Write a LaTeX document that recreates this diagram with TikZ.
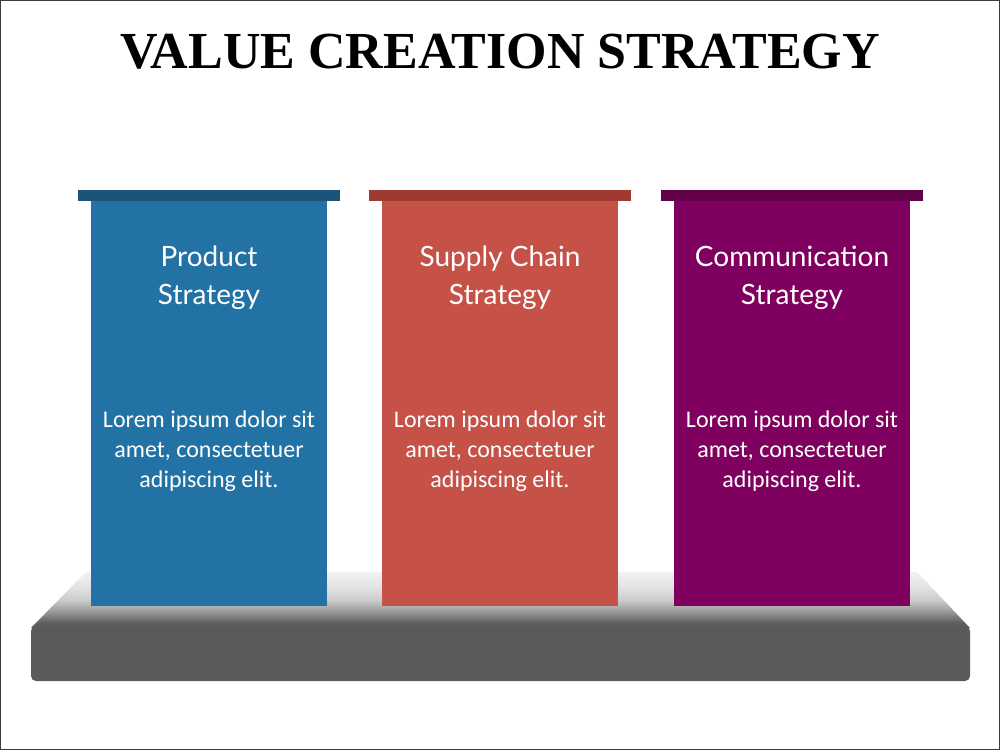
\documentclass[tikz,border=0pt]{standalone}
\usepackage{fontspec}
\setmainfont{Liberation Serif}
\newfontfamily\headfont{Lato}
\newfontfamily\bodyfont{Carlito}
\definecolor{blueBody}{HTML}{2272A5}
\definecolor{blueCap}{HTML}{1B5478}
\definecolor{redBody}{HTML}{C55147}
\definecolor{redCap}{HTML}{9E3A30}
\definecolor{purBody}{HTML}{800060}
\definecolor{purCap}{HTML}{62004A}
\definecolor{platFront}{HTML}{5A5A5A}
\definecolor{frameCol}{HTML}{3C3C3C}
\definecolor{pA}{HTML}{5A5A5A}
\definecolor{pB}{HTML}{606060}
\definecolor{pC}{HTML}{9A9A9A}
\definecolor{pD}{HTML}{CBCBCB}
\definecolor{pE}{HTML}{E3E3E3}
\definecolor{pF}{HTML}{F2F2F2}
\pgfdeclareverticalshading{platshade}{100bp}{color(0bp)=(pA); color(25bp)=(pA); color(30bp)=(pB); color(40bp)=(pC); color(50bp)=(pD); color(62bp)=(pE); color(75bp)=(pF); color(100bp)=(pF)}
\tikzset{
  capbox/.style={anchor=south, minimum width=262pt, minimum height=11.5pt, inner sep=0pt, draw=none},
  bodybox/.style={anchor=north, minimum width=236pt, minimum height=405pt, inner sep=0pt, draw=none},
  headtext/.style={text=white, align=center, font=\headfont\fontsize{28}{38}\selectfont, anchor=base},
  bodytext/.style={text=white, align=center, font=\bodyfont\fontsize{24}{30}\selectfont, anchor=base},
  titletext/.style={font=\fontsize{52}{60}\selectfont\bfseries, anchor=base}
}
\begin{document}
\begin{tikzpicture}[x=1pt,y=-1pt]
\useasboundingbox (0,0) rectangle (1000,750);
\fill[white] (0,0) rectangle (1000,750);
\draw[frameCol, line width=1.2pt] (0.6,0.6) rectangle (999.4,749.4);
\node[titletext] (title) at (500,68) {VALUE CREATION STRATEGY};
% platform
\shade[shading=platshade] (86,572) -- (917,572) -- (970,628) -- (31,628) -- cycle;
\fill[platFront, rounded corners=5pt] (31,626) rectangle (970,681);
% columns
\foreach \cx/\bc/\cc/\nm in {209/blueBody/blueCap/a, 500/redBody/redCap/b, 792/purBody/purCap/c}{
  \node[bodybox, fill=\bc] (body\nm) at (\cx,201) {};
  \node[capbox, fill=\cc] (cap\nm) at (\cx,201.5) {};
}
% anchor=base is the baseline of the last line
\node[headtext] (heada) at (209,304) {Product\\Strategy};
\node[headtext] (headb) at (500,304) {Supply Chain\\Strategy};
\node[headtext] (headc) at (792,304) {Communication\\Strategy};
\node[bodytext] (texta) at (209,487) {Lorem ipsum dolor sit\\amet, consectetuer\\adipiscing elit.};
\node[bodytext] (textb) at (500,487) {Lorem ipsum dolor sit\\amet, consectetuer\\adipiscing elit.};
\node[bodytext] (textc) at (792,487) {Lorem ipsum dolor sit\\amet, consectetuer\\adipiscing elit.};
\end{tikzpicture}
\end{document}
